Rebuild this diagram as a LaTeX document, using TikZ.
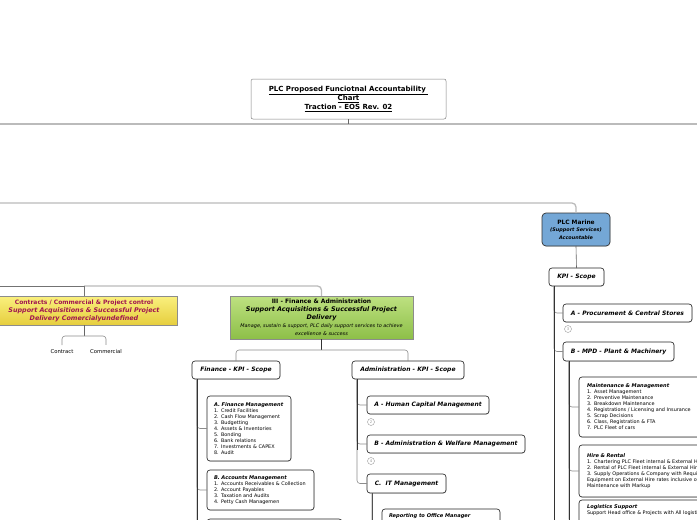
\documentclass[tikz,border=0pt]{standalone}
\usepackage{fontspec}
\setmainfont{DejaVu Sans}
\usetikzlibrary{shadows}
\definecolor{trunkc}{HTML}{333333}
\definecolor{branchc}{HTML}{8C8C8C}
\definecolor{toplc}{HTML}{BBBBBB}
\definecolor{crim}{HTML}{A0154F}
\definecolor{marineblue}{HTML}{74A7D6}
\definecolor{numcol}{HTML}{9A9A9A}
\definecolor{yeltop}{HTML}{FAF07E}
\definecolor{yelbot}{HTML}{E6CE3E}
\definecolor{grntop}{HTML}{BEE181}
\definecolor{grnbot}{HTML}{8DBF48}
\newcommand\fkpi{\fontsize{6}{7}\selectfont\bfseries\itshape}
\newcommand\flist{\fontsize{4.9}{6}\selectfont}
\newcommand\fhead{\fontsize{5.1}{6}\selectfont\bfseries\itshape}
\tikzset{
  every node/.style={inner sep=0pt, outer sep=0pt},
  kpibox/.style={draw=black!85, line width=0.65pt, rounded corners=3pt, fill=white,
    anchor=north west, font=\fkpi, align=center,
    drop shadow={opacity=0.2, shadow xshift=0.5pt, shadow yshift=-0.8pt}},
  listbox/.style={kpibox, font=\flist, align=left, inner xsep=7pt, inner ysep=3pt},
  colbox/.style={anchor=north west, draw=black!45, line width=0.5pt, align=center},
  trunk/.style={draw=trunkc, line width=0.7pt},
  branch/.style={draw=branchc, line width=0.6pt, rounded corners=3pt},
  topline/.style={draw=toplc, line width=1.3pt},
  numdot/.style={circle, draw=numcol, line width=0.4pt, minimum size=7pt, fill=white,
    font=\fontsize{3.8}{4}\selectfont, text=numcol},
  leaf/.style={font=\fontsize{5.3}{6}\selectfont, inner sep=1pt}
}
\begin{document}
\begin{tikzpicture}[x=1pt,y=-1pt]
\useasboundingbox (0,0) rectangle (697,520);
\clip (0,0) rectangle (697,520);
\fill[white] (0,0) rectangle (697,520);

% ---------- title ----------
\node[draw=black!50, line width=0.5pt, rounded corners=2pt, anchor=north west,
  minimum width=195pt, minimum height=40pt, align=center,
  font=\fontsize{7}{9}\selectfont\bfseries] (title) at (251,79)
  {\underline{PLC Proposed Funciotnal Accountability }\\\underline{Chart}\\\underline{Traction - EOS Rev. 02}};

\coordinate (tl) at (0,124);
\coordinate (tr) at (697,124);
\coordinate (ml) at (0,203);
\coordinate (yl) at (0,286);

% ---------- main boxes ----------
\node[colbox, top color=yeltop, bottom color=yelbot, minimum width=186pt, minimum height=29pt,
  text=crim, font=\fontsize{6}{8}\selectfont\bfseries] (yellow) at (-9,296)
  {Contracts / Commercial \& Project control\\
   {\fontsize{6.4}{8}\selectfont\itshape Support Acquisitions \& Successful Project}\\
   {\fontsize{6.4}{8}\selectfont\itshape Delivery Comercialyundefined}};

\node[leaf] (contract) at (62,352) {Contract};
\node[leaf] (commercial) at (106,352) {Commercial};

\node[colbox, top color=grntop, bottom color=grnbot, minimum width=183pt, minimum height=43pt,
  font=\fontsize{6}{8}\selectfont\bfseries] (green) at (230,296)
  {III - Finance \& Administration\\
   {\fontsize{6.4}{8}\selectfont\itshape Support Acquisitions \& Successful Project}\\
   {\fontsize{6.4}{8}\selectfont\itshape Delivery}\\
   {\fontsize{4.95}{8}\selectfont\mdseries\itshape Manage, sustain \& support, PLC daily support services to achieve}\\
   {\fontsize{4.95}{8}\selectfont\mdseries\itshape excellence \& success}};

\node[anchor=north west, draw=black!80, line width=0.7pt, rounded corners=4pt, fill=marineblue,
  minimum width=68pt, minimum height=33pt, align=center, font=\fontsize{5.9}{7.5}\selectfont\bfseries,
  drop shadow={opacity=0.2, shadow xshift=0.5pt, shadow yshift=-0.8pt}] (marine) at (542,213)
  {PLC Marine\\{\fontsize{4.9}{7.5}\selectfont\itshape (Support Services)}\\{\fontsize{4.9}{7.5}\selectfont\itshape Accountable}};

% ---------- finance ----------
\node[kpibox, minimum width=88pt, minimum height=18pt] (fin) at (192,361) {Finance - KPI - Scope};
\node[listbox, text width=70pt, minimum height=65pt] (finA) at (207,396)
  {{\fhead A. Finance Management}\\1. Credit Facilities\\2. Cash Flow Management\\3. Budgetting\\4. Assets \& Inventories\\5. Bonding\\6. Bank relations\\7. Investments \& CAPEX\\8. Audit};
\node[listbox, text width=93pt, minimum height=40pt] (finB) at (207,470)
  {{\fhead B. Accounts Management}\\1. Accounts Receivables \& Collection\\2. Account Payables\\3. Taxation and Audits\\4. Petty Cash Managemen};
\node[kpibox, minimum width=135pt, minimum height=20pt] (finC) at (207,519) {};

% ---------- administration ----------
\node[kpibox, minimum width=112pt, minimum height=18pt] (adm) at (352,361) {Administration - KPI - Scope};
\node[kpibox, minimum width=122pt, minimum height=18pt] (hcm) at (367,396) {A - Human Capital Management};
\node[kpibox, minimum width=158pt, minimum height=18pt] (adw) at (367,435) {B - Administration \& Welfare Management};
\node[kpibox, minimum width=79pt, minimum height=19pt] (itm) at (367,474) {C.~ IT Management};
\node[kpibox, align=left, inner xsep=7pt, inner ysep=5pt, minimum width=118pt] (rep) at (382,509)
  {\parbox[t][30pt][t]{104pt}{\fhead Reporting to Office Manager}};
\node[numdot] (n2) at (371,422) {2};
\node[numdot] (n4) at (371,461) {4};

% ---------- marine ----------
\node[kpibox, minimum width=55pt, minimum height=18pt] (kpim) at (549,268) {KPI - Scope};
\node[kpibox, minimum width=129pt, minimum height=18pt] (proc) at (563,304) {A - Procurement \& Central Stores};
\node[kpibox, minimum width=111pt, minimum height=19pt] (mpd) at (563,342) {B - MPD - Plant \& Machinery};
\node[numdot] (n3) at (568,329) {3};
\node[listbox, text width=150pt, minimum height=60pt, inner xsep=8pt] (maint) at (579,377)
  {{\fhead Maintenance \& Management}\\1. Asset Management\\2. Preventive Maintenance\\3. Breakdown Maintenance\\4. Registrations / Licensing and Insurance\\5. Scrap Decisions\\6. Class, Registration \& FTA\\7. PLC Fleet of cars};
\node[listbox, text width=150pt, minimum height=52pt, inner xsep=8pt] (hire) at (579,445)
  {{\fhead Hire \& Rental}\\1. Chartering PLC Fleet internal \& External Hire\\2. Rental of PLC Fleet internal \& External Hire\\3. Supply Operations \& Company with Required\\Equipment on External Hire rates inclusive of\\Maintenance with Markup};
\node[kpibox, align=left, inner xsep=8pt, inner ysep=5pt, font=\flist] (logi) at (579,500)
  {\parbox[t][34pt][t]{150pt}{{\fhead Logistics Support}\\Support Head office \& Projects with All logistics}};

% ---------- connectors ----------
\draw[topline] (tl) -- (tr);
\draw[draw=black!60, line width=0.5pt] (title.south) -- (title.south |- tl);
\draw[topline, rounded corners=4pt] (ml) -| (marine.north);
\draw[topline, rounded corners=4pt] (yellow.north |- yl) -| (green.north);
\draw[draw=black!55, line width=1pt] (yl) -| (yellow.north);

\coordinate (yj) at ([yshift=-11pt]yellow.south);
\draw[draw=black!60, line width=0.6pt] (yellow.south) -- (yj);
\draw[branch] (yj) -| ([yshift=4pt]contract.north);
\draw[branch] (yj) -| ([yshift=4pt]commercial.north);

\coordinate (gj) at ([yshift=-11pt]green.south);
\draw[trunk] (green.south) -- (gj);
\draw[branch] (gj) -| (fin.north);
\draw[branch] (gj) -| (adm.north);

\draw[branch] ([xshift=5pt]fin.south west) |- (finA.west);
\draw[branch] ([xshift=5pt]fin.south west) |- (finB.west);
\draw[branch] ([xshift=5pt]fin.south west) |- (finC.west);
\draw[trunk] ([xshift=5pt]fin.south west) -- ([xshift=5pt]fin.south west |- finC.west);

\draw[branch] ([xshift=5pt]adm.south west) |- (hcm.west);
\draw[branch] ([xshift=5pt]adm.south west) |- (adw.west);
\draw[branch] ([xshift=5pt]adm.south west) |- (itm.west);
\draw[trunk] ([xshift=5pt]adm.south west) -- ([xshift=5pt,yshift=-6pt]adm.south west |- adw.west);
\draw[trunk] ([xshift=5pt]itm.south west) -- ([xshift=5pt]itm.south west |- rep.west);
\draw[branch] ([xshift=5pt]itm.south west) |- (rep.west);

\draw[draw=black!60, line width=0.6pt] (marine.south) -- (kpim.north);
\draw[branch] ([xshift=5pt]kpim.south west) |- (proc.west);
\draw[branch] ([xshift=5pt]kpim.south west) |- (mpd.west);
\draw[trunk] ([xshift=5pt]kpim.south west) -- ([xshift=5pt]kpim.south west |- logi.south);

\draw[branch] ([xshift=6pt]mpd.south west) |- (maint.west);
\draw[branch] ([xshift=6pt]mpd.south west) |- (hire.west);
\draw[branch] ([xshift=6pt]mpd.south west) |- (logi.west);
\draw[trunk] ([xshift=6pt]mpd.south west) -- ([xshift=6pt]mpd.south west |- logi.west);
\end{tikzpicture}
\end{document}
